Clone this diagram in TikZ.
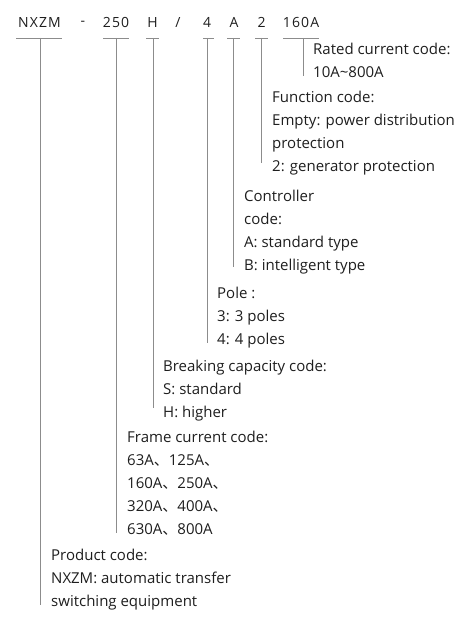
\documentclass[tikz,border=0pt]{standalone}
\usepackage{fontspec}
\setmainfont{Open Sans}
\newfontfamily\cjk{Noto Sans CJK SC}
\newcommand\idcomma{{\cjk 、}}
\definecolor{txt}{HTML}{1E1E1E}
\definecolor{ln}{HTML}{8C8C8C}
\begin{document}
\begin{tikzpicture}[x=1bp,y=-1bp,
  desc/.style={anchor=base west, inner sep=0pt, align=left, text=txt,
    font=\fontsize{15bp}{23bp}\selectfont},
  code/.style={anchor=base, inner sep=0pt, text=txt,
    font=\fontsize{14bp}{16bp}\selectfont\addfontfeatures{LetterSpace=8}},
  lead/.style={draw=ln, line width=0.9bp}]
\useasboundingbox (0,0) rectangle (474,626);
% code row
\node[code] (c1) at (39.5,28) {NXZM};
\node[code] (dash) at (83,28) {\raisebox{2bp}{-}};
\node[code] (c2) at (116,28) {250};
\node[code] (c3) at (152.5,28) {H};
\node[code] (slash) at (178,28) {/};
\node[code] (c4) at (207,28) {4};
\node[code] (c5) at (234,28) {A};
\node[code] (c6) at (261.5,28) {2};
\node[code] (c7) at (301,28) {160A};
% descriptions (anchored at the baseline of their last line)
\node[desc] (d7) at (313,78) {Rated current code:\\10A\textasciitilde800A};
\node[desc] (d6) at (272,172) {Function code:\\Empty: power distribution\\protection\\2: generator protection};
\node[desc] (d5) at (244,270) {Controller\\code:\\A: standard type\\B: intelligent type};
\node[desc] (d4) at (217,344) {Pole :\\3: 3 poles\\4: 4 poles};
\node[desc] (d3) at (163,417) {Breaking capacity code:\\S: standard\\H: higher};
\node[desc] (d2) at (127,534) {Frame current code:\\63A\idcomma 125A\idcomma\\160A\idcomma 250A\idcomma\\320A\idcomma 400A\idcomma\\630A\idcomma 800A};
\node[desc] (d1) at (51,606) {Product code:\\NXZM: automatic transfer\\switching equipment};
% underline ends and leader ends
\coordinate (u1a) at (16,38);  \coordinate (u1b) at (62,38);  \coordinate (t1) at (40,38);  \coordinate (e1) at (40,605);
\coordinate (u2a) at (103,38); \coordinate (u2b) at (129,38); \coordinate (t2) at (116,38); \coordinate (e2) at (116,533);
\coordinate (u3a) at (146,38); \coordinate (u3b) at (159,38); \coordinate (t3) at (153,38); \coordinate (e3) at (153,408);
\coordinate (u4a) at (203,38); \coordinate (u4b) at (214,38); \coordinate (t4) at (207,38); \coordinate (e4) at (207,343);
\coordinate (u5a) at (227,38); \coordinate (u5b) at (240,38); \coordinate (t5) at (233,38); \coordinate (e5) at (233,267);
\coordinate (u6a) at (255,38); \coordinate (u6b) at (268,38); \coordinate (t6) at (261,38); \coordinate (e6) at (261,163);
\coordinate (u7a) at (283,38); \coordinate (u7b) at (319,38); \coordinate (t7) at (303,38); \coordinate (e7) at (303,76);
\foreach \i in {1,...,7}{
  \draw[lead] (u\i a) -- (u\i b);
  \draw[lead] (t\i) -- (e\i);
}
\end{tikzpicture}
\end{document}
